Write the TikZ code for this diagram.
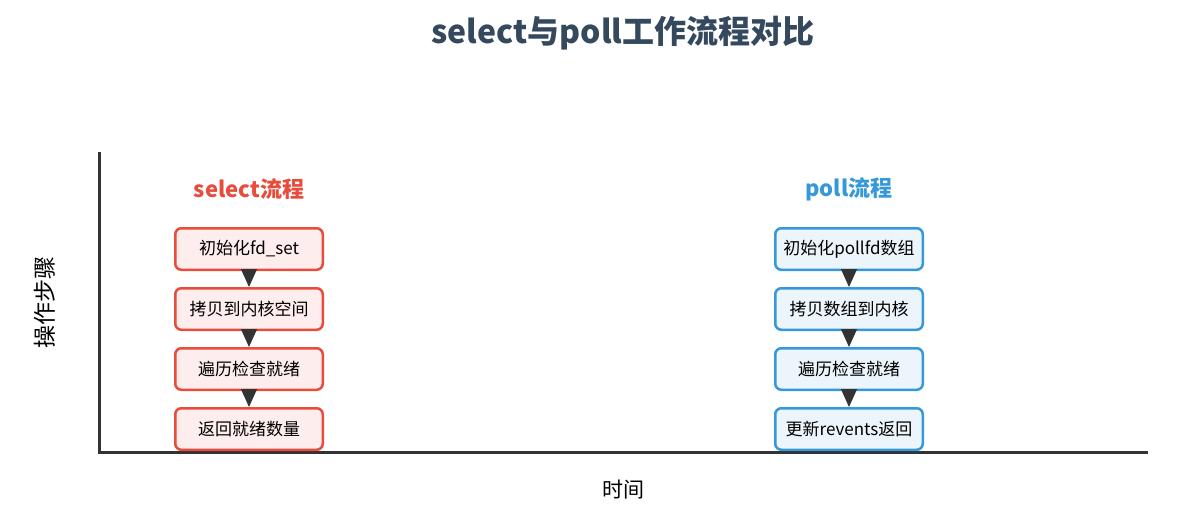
\documentclass[tikz,border=0pt]{standalone}
\usepackage{fontspec}
\setmainfont{Noto Sans CJK SC}
\usetikzlibrary{arrows.meta,positioning}

\definecolor{titlegray}{HTML}{34495E}
\definecolor{axisgray}{HTML}{333333}
\definecolor{selred}{HTML}{E74C3C}
\definecolor{selfill}{HTML}{FDEDEC}
\definecolor{pollblue}{HTML}{3498DB}
\definecolor{pollfill}{HTML}{EBF5FB}

\tikzset{
  selbox/.style={draw=selred,fill=selfill,line width=2.5pt,rounded corners=6pt,
    minimum width=147.5pt,minimum height=41.5pt,inner sep=0pt,font=\fontsize{17}{20}\selectfont},
  pollbox/.style={selbox,draw=pollblue,fill=pollfill},
  flowarrow/.style={-{Triangle[width=16pt,length=18pt]},axisgray,line width=1pt},
}

\begin{document}
\begin{tikzpicture}[x=1pt,y=-1pt]
\useasboundingbox (0,0) rectangle (1181,516);

\node (title) [text=titlegray,font=\fontsize{32}{36}\selectfont\bfseries] at (623,33) {select与poll工作流程对比};

% axes
\coordinate (origin) at (99,452);
\coordinate (ytop) at (99,152);
\coordinate (xend) at (1148,452);
\draw[axisgray,line width=3pt] (ytop)--(origin)--(xend);
\node (ylabel) [rotate=90,font=\fontsize{23}{26}\selectfont] at (45,302) {操作步骤};
\node (xlabel) [font=\fontsize{21}{24}\selectfont] at (623,490) {时间};

% select
\node (selhead) [text=selred,font=\fontsize{22}{26}\selectfont\bfseries] at (249,189) {select流程};
\node (s1) [selbox] at (249,249) {初始化fd\_set};
\node (s2) [selbox,below=16pt of s1] {拷贝到内核空间};
\node (s3) [selbox,below=16pt of s2] {遍历检查就绪};
\node (s4) [selbox,below=16pt of s3] {返回就绪数量};

\draw[flowarrow] (s1.south)--(s2.north);
\draw[flowarrow] (s2.south)--(s3.north);
\draw[flowarrow] (s3.south)--(s4.north);

% poll
\node (pollhead) [text=pollblue,font=\fontsize{22}{26}\selectfont\bfseries] at (849,189) {poll流程};
\node (p1) [pollbox] at (849,249) {初始化pollfd数组};
\node (p2) [pollbox,below=16pt of p1] {拷贝数组到内核};
\node (p3) [pollbox,below=16pt of p2] {遍历检查就绪};
\node (p4) [pollbox,below=16pt of p3] {更新revents返回};

\draw[flowarrow] (p1.south)--(p2.north);
\draw[flowarrow] (p2.south)--(p3.north);
\draw[flowarrow] (p3.south)--(p4.north);

\end{tikzpicture}
\end{document}
